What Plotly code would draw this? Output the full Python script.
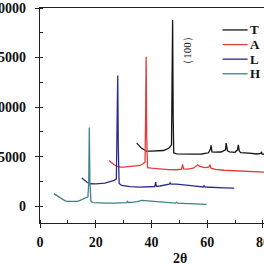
import plotly.graph_objects as go

# ---- data (2θ, intensity with stacking offset) ----
names = ["T", "A", "L", "H"]
colors = ["#141414", "#e23c3c", "#2b2b8f", "#3f8288"]

t_x = [34.7, 35.5, 36.5, 37.5, 38.3, 40, 42, 44.3, 45.5, 46.4, 47.2, 47.4, 47.6, 47.8, 48.0, 49, 52, 55, 58, 60.5, 61.2, 61.4, 61.7, 63, 65, 66.6, 66.8, 67.0, 67.3, 68, 70, 70.9, 71.2, 71.5, 72, 75, 78, 79.3, 79.5, 79.7, 81]
t_y = [6370, 6100, 5850, 5680, 5560, 5560, 5590, 5630, 5760, 5900, 6200, 12000, 18800, 9000, 5400, 5300, 5260, 5260, 5280, 5400, 5800, 6140, 5500, 5460, 5480, 5700, 6370, 5800, 5600, 5500, 5450, 5700, 6200, 5600, 5420, 5360, 5280, 5350, 5500, 5280, 5230]

a_x = [24.8, 25.5, 26.5, 27.5, 28.7, 30, 32.3, 34, 35.9, 37, 37.7, 37.9, 38.1, 38.3, 38.6, 40, 43, 46, 49, 50.8, 51.2, 51.5, 53, 55, 56.2, 56.6, 57.2, 59, 60.6, 61, 61.4, 63, 66, 70, 75, 81]
a_y = [4630, 4420, 4210, 4050, 3950, 3960, 4020, 4060, 4120, 4300, 4460, 9000, 15090, 7000, 3900, 3850, 3760, 3700, 3690, 3750, 4220, 3780, 3760, 3850, 4100, 4190, 4050, 3900, 3950, 4190, 3850, 3720, 3640, 3600, 3520, 3450]

l_x = [15, 16, 17, 18, 20, 23.3, 25, 26.6, 27.4, 27.7, 27.9, 28.1, 28.4, 29.3, 32.3, 35.9, 40, 41.2, 41.5, 41.8, 43, 45, 46.4, 46.7, 47, 49, 52, 55, 58.5, 58.9, 59.3, 62, 66, 69.7]
l_y = [2850, 2580, 2400, 2280, 2260, 2340, 2450, 2615, 2750, 7000, 13180, 6000, 2300, 2110, 1980, 1940, 1950, 2000, 2450, 2020, 2050, 2150, 2230, 2380, 2250, 2230, 2180, 2060, 1950, 2080, 1950, 1900, 1870, 1840]

h_x = [5, 6, 7, 8, 9, 10, 11, 12, 13.2, 14, 15, 16.5, 17.2, 17.5, 17.7, 17.9, 18.3, 19, 21, 24, 27, 30, 31.1, 31.4, 31.7, 33, 35, 36.5, 38, 40, 41.3, 43, 45, 47, 48.7, 49, 49.3, 51, 54, 57, 59.8]
h_y = [1278, 1080, 890, 700, 560, 505, 490, 495, 503, 560, 680, 875, 950, 2500, 7950, 2500, 520, 370, 340, 330, 330, 340, 380, 500, 390, 400, 470, 600, 560, 560, 530, 460, 400, 350, 330, 420, 320, 300, 270, 230, 200]

series_x = [t_x, a_x, l_x, h_x]
series_y = [t_y, a_y, l_y, h_y]

x_ticks = [0, 20, 40, 60, 80]
y_ticks = [0, 5000, 10000, 15000, 20000]

serif = "Liberation Serif, Times New Roman, serif"

fig = go.Figure()
for nm, c, xs, ys in zip(names, colors, series_x, series_y):
    fig.add_trace(go.Scatter(x=xs, y=ys, mode="lines", name=nm,
                             line=dict(color=c, width=1.3), showlegend=False))

# manual legend (compact spacing)
leg_top = 0.898
leg_step = 0.068
for i, (nm, c) in enumerate(zip(names, colors)):
    yy = leg_top - i * leg_step
    fig.add_shape(type="line", xref="paper", yref="paper",
                  x0=0.815, x1=0.927, y0=yy, y1=yy,
                  line=dict(color=c, width=1.3))
    fig.add_annotation(xref="paper", yref="paper", x=0.928, y=yy,
                       text="<b>" + nm + "</b>", showarrow=False,
                       xanchor="left", yanchor="middle",
                       font=dict(family=serif, size=13, color="#111"))

fig.add_annotation(x=52.8, y=15700, xref="x", yref="y", text="（100）",
                   textangle=-90, showarrow=False,
                   font=dict(family=serif, size=11, color="#111"))

fig.add_annotation(x=50.3, y=-0.165, xref="x", yref="paper", text="<b>2θ</b>",
                   showarrow=False, yanchor="middle",
                   font=dict(family=serif, size=14, color="#111"))

fig.update_layout(
    width=264, height=264,
    margin=dict(l=40, r=0, t=8, b=41),
    paper_bgcolor="white", plot_bgcolor="white",
    font=dict(family=serif, size=13, color="#111"),
    showlegend=False,
)
fig.update_xaxes(range=[0, 80.4], tickvals=x_ticks,
                 ticktext=["<b>%d</b>" % v for v in x_ticks],
                 showgrid=False, zeroline=False, automargin=False,
                 ticklabeloverflow="allow",
                 showline=True, linecolor="#222", linewidth=1.3, mirror=True,
                 ticks="outside", ticklen=4, tickcolor="#222",
                 ticklabelstandoff=2,
                 minor=dict(dtick=10, ticks="inside", ticklen=3, tickcolor="#222"),
                 tickfont=dict(family=serif, size=14))
fig.update_yaxes(range=[-1680, 20000], tickvals=y_ticks,
                 ticktext=["<b>%d</b>" % v for v in y_ticks],
                 showgrid=False, zeroline=False, automargin=False,
                 ticklabeloverflow="allow",
                 showline=True, linecolor="#222", linewidth=1.3,
                 ticks="outside", ticklen=4, tickcolor="#222",
                 ticklabelstandoff=6,
                 minor=dict(dtick=2500, ticks="inside", ticklen=3, tickcolor="#222"),
                 tickfont=dict(family=serif, size=14))

fig.write_html("out.html")
